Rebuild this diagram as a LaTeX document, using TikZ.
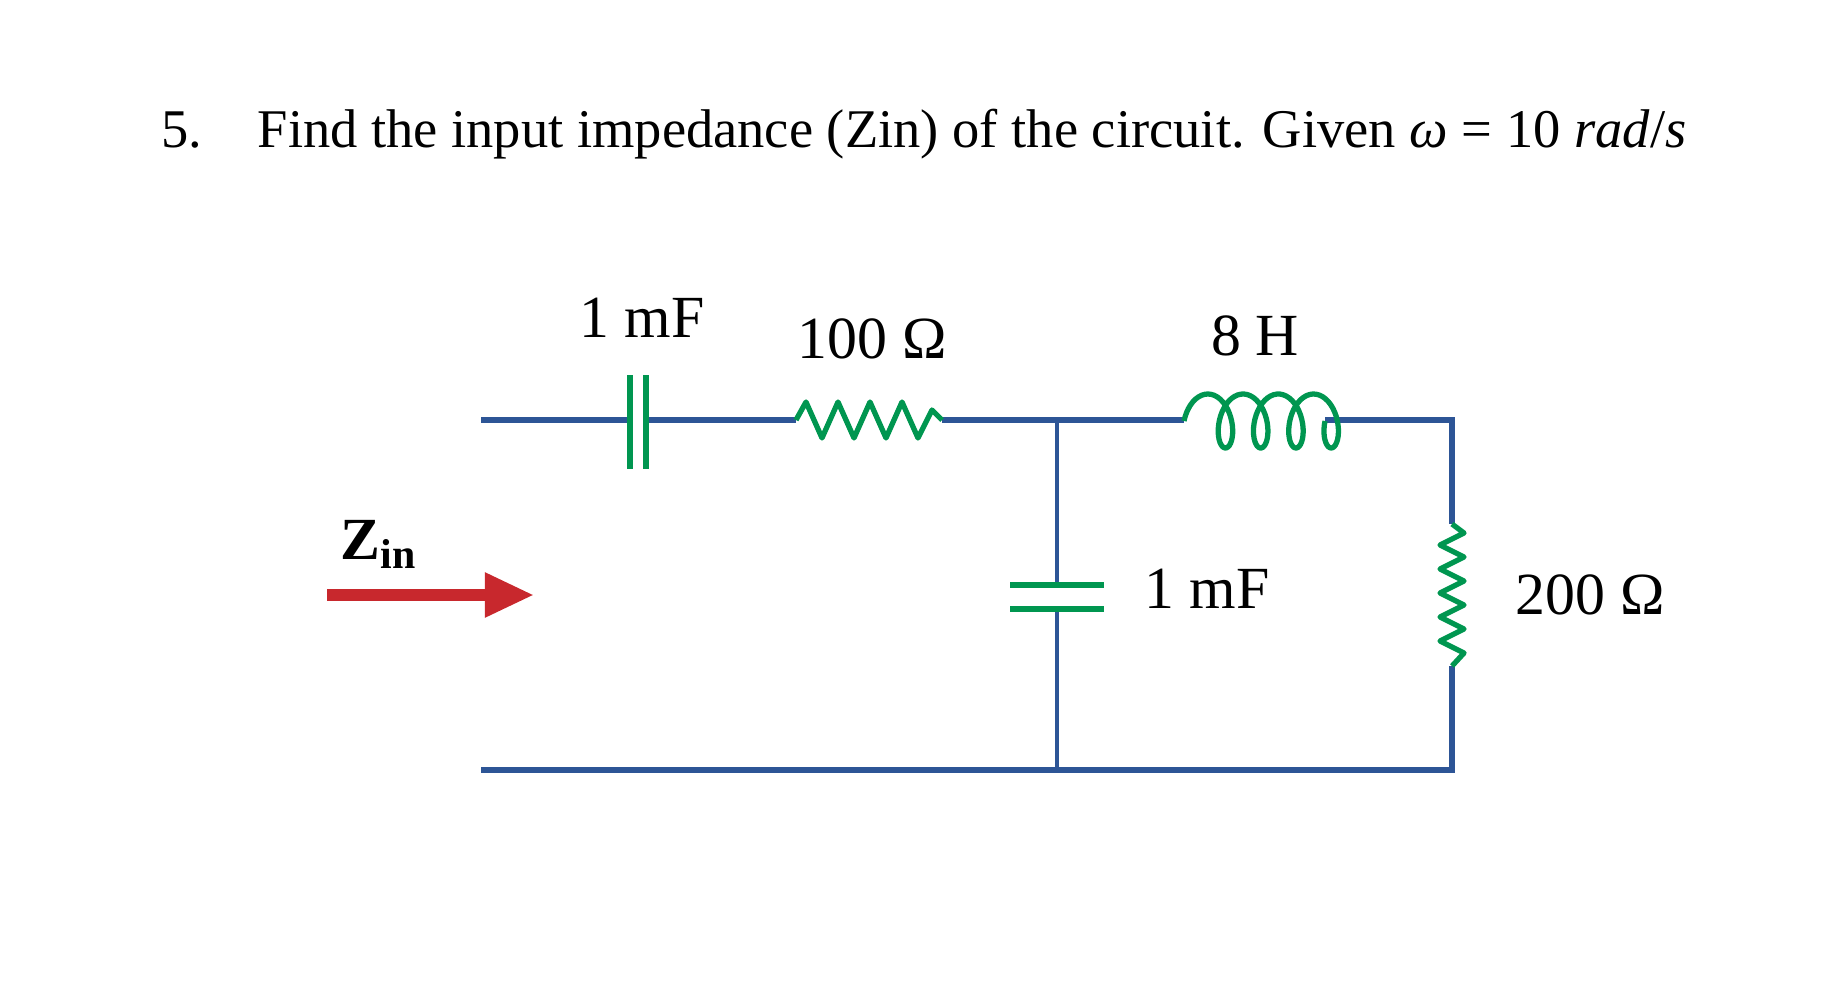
\documentclass[tikz,border=0pt]{standalone}
\usepackage{fontspec}
\setmainfont{Liberation Serif}
\usepackage{amsmath}
\usetikzlibrary{arrows.meta}
\definecolor{wire}{RGB}{45,85,150}
\definecolor{comp}{RGB}{0,150,80}
\definecolor{arr}{RGB}{200,40,45}
\begin{document}
\begin{tikzpicture}[x=0.01cm,y=-0.01cm,
  w/.style={draw=wire,line width=1.7pt},
  c/.style={draw=comp,line width=1.5pt},
  lbl/.style={font=\fontsize{17}{20}\selectfont,inner sep=0pt}]
\useasboundingbox (0,0) rectangle (1837,997);
% title
\node[anchor=base west,inner sep=0pt,font=\fontsize{15.5}{18}\selectfont] (num) at (161,148) {5.};
\node[anchor=base west,inner sep=0pt,font=\fontsize{15.5}{18}\selectfont] (title) at (257,148) {Find the input impedance (Zin) of the circuit. Given \textit{ω} = 10 \textit{rad}/\textit{s}};
% coordinates
\coordinate (tl) at (481,420);
\coordinate (bl) at (481,770);
\coordinate (j) at (1057,420);
\coordinate (jb) at (1057,770);
\coordinate (tr) at (1452,420);
\coordinate (br) at (1452,770);
\coordinate (c1a) at (630,420);
\coordinate (c1b) at (646,420);
\coordinate (r1a) at (796,420);
\coordinate (r1b) at (942,420);
\coordinate (l1a) at (1184,420);
\coordinate (l1b) at (1325,420);
\coordinate (c2a) at (1057,585);
\coordinate (c2b) at (1057,609);
\coordinate (r2a) at (1452,524);
\coordinate (r2b) at (1452,666);
% wires
\draw[w] (tl) -- (c1a);
\draw[w] (c1b) -- (r1a);
\draw[w] (r1b) -- (l1a);
\draw[w] (l1b) -- (tr) -- (r2a);
\draw[w] (r2b) -- (br) -- (bl);
\draw[w,line width=1.4pt] (j) -- (c2a);
\draw[w,line width=1.4pt] (c2b) -- (jb);
% capacitor 1
\draw[c] (630,375) -- (630,469);
\draw[c] (646,375) -- (646,469);
% resistor 1
\draw[c,line join=round] (r1a) -- (806,402) -- (822,438) -- (838,402) -- (854,438) -- (870,402) -- (886,438) -- (902,402) -- (918,438) -- (932,410) -- (r1b);
% inductor
\draw[c] plot[smooth,samples=160,domain=0:1440,variable=\t]
  ({1184+15+\t/360*35.25-15*cos(\t)},{421-27*sin(\t)});
% capacitor 2
\draw[c] (1010,585) -- (1104,585);
\draw[c] (1010,609) -- (1104,609);
% resistor 2
\draw[c,line join=round] (r2a) -- (1464,533) -- (1440,545) -- (1464,557) -- (1440,569) -- (1464,581) -- (1440,593) -- (1464,605) -- (1440,617) -- (1464,629) -- (1440,641) -- (1464,653) -- (r2b);
% labels
\node[lbl] (lc1) at (642,318) {1 mF};
\node[lbl] (lr1) at (872,339) {100 Ω};
\node[lbl] (ll1) at (1255,336) {8 H};
\node[lbl] (lc2) at (1207,589) {1 mF};
\node[lbl] (lr2) at (1590,595) {200 Ω};
\node[lbl,font=\fontsize{17}{20}\bfseries\selectfont] (zin) at (379,544) {Z\textsubscript{in}};
% arrow
\coordinate (a0) at (327,595);
\coordinate (a1) at (534,595);
\draw[arr,line width=3.2pt,-{Triangle[length=14pt,width=12pt]}] (a0) -- (a1);
\end{tikzpicture}
\end{document}
